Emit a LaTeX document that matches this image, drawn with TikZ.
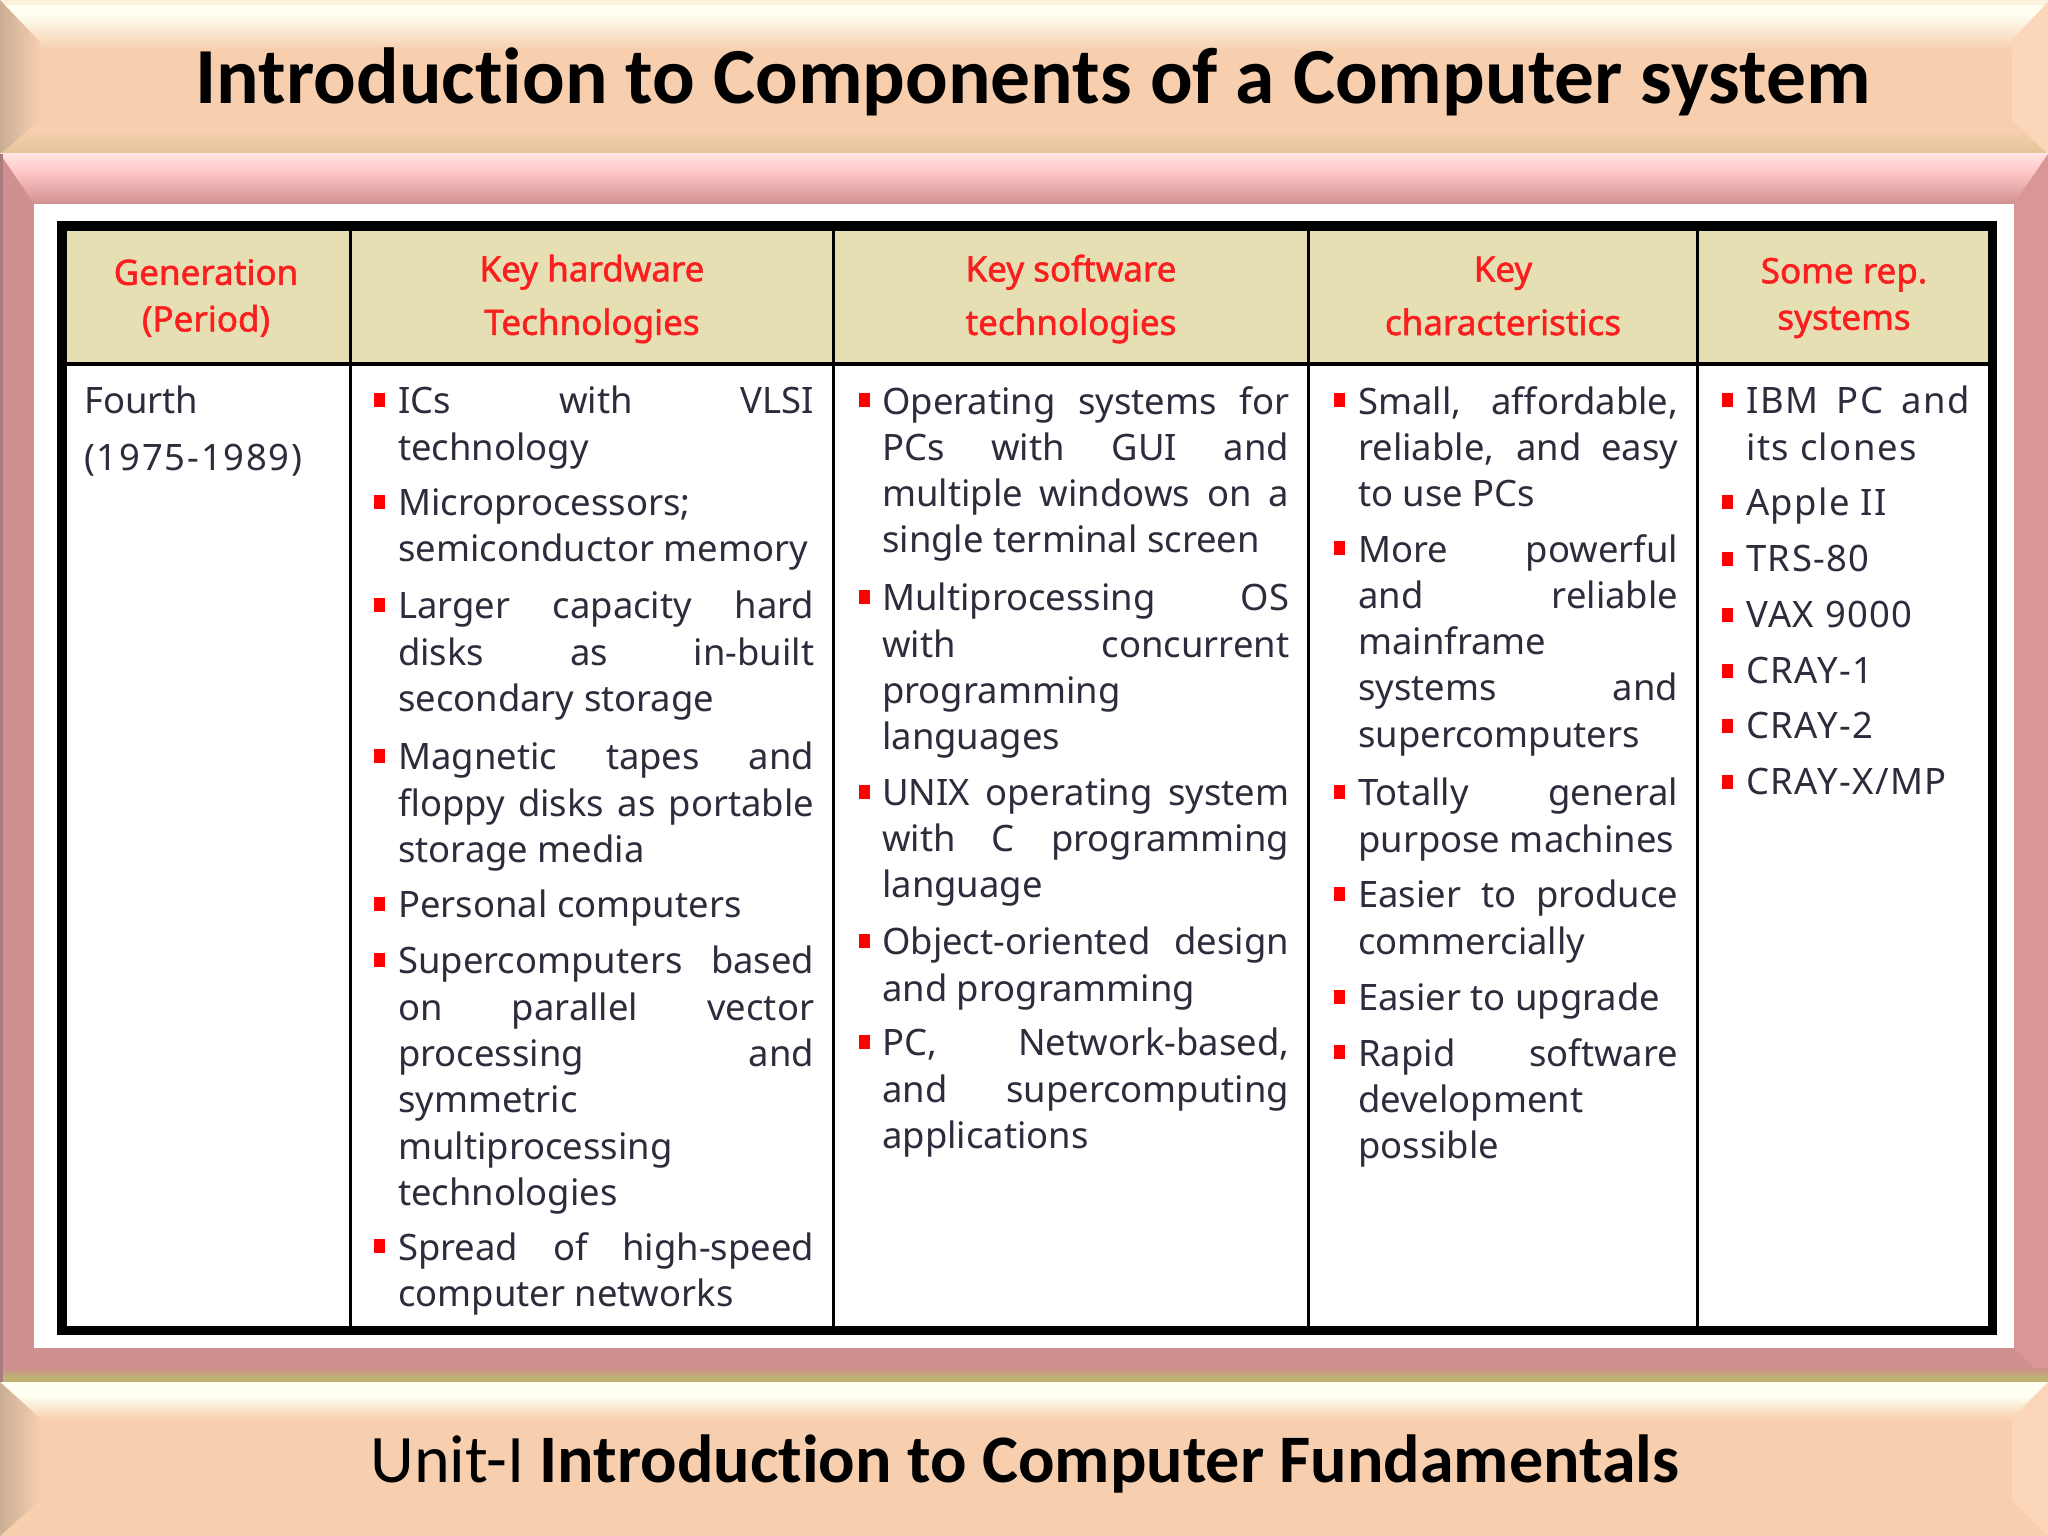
\documentclass[tikz,border=0pt]{standalone}
\usepackage{fontspec}
\setmainfont{Noto Sans}
\newfontfamily\titlefont[Ligatures=CommonOff]{Carlito}
\definecolor{peach}{HTML}{F7CFAF}
\definecolor{peachlight}{HTML}{FBD6B8}
\definecolor{tanedge}{HTML}{C9AE94}
\definecolor{cream}{HTML}{FFFFF2}
\definecolor{olive}{HTML}{BDB272}
\definecolor{rosy}{HTML}{D09090}
\definecolor{rosyright}{HTML}{DA9595}
\definecolor{rosylight}{HTML}{FFC6C6}
\definecolor{rosydark}{HTML}{A87C7C}
\definecolor{headfill}{HTML}{E6DFB3}
\definecolor{headred}{HTML}{FA1E1E}
\definecolor{bodyink}{HTML}{2C2C3C}
\begin{document}
\begin{tikzpicture}[x=1pt,y=-1pt,
  headtext/.style={headred,align=center,inner sep=0pt,font=\fontsize{35}{#1}\selectfont\addfontfeatures{FakeBold=1.5}},
  itemtext/.style={bodyink,anchor=north west,inner sep=0pt,align=justify,font=\fontsize{36.4}{46.3}\selectfont},
  sysitem/.style={itemtext,font=\fontsize{36.4}{46.3}\selectfont\addfontfeatures{LetterSpace=4}},
  redbox/.style={fill=red,inner sep=0pt,minimum width=11pt,minimum height=14pt},
  colline/.style={line width=3pt}]
\useasboundingbox (0,0) rectangle (2048,1536);
% bands
\fill[peach] (0,0) rectangle (2048,154);
\fill[cream!70!peach] (0,0) rectangle (2048,5);
\shade[top color=cream,bottom color=peach] (0,14) rectangle (2048,50);
\fill[cream] (0,5) rectangle (2048,14);
\shade[top color=peach,bottom color=olive!35!peach] (0,130) rectangle (2048,154);
\shade[left color=tanedge,right color=peach] (0,0) -- (40,42) -- (40,120) -- (0,154) -- cycle;
\fill[peachlight] (2012,40) -- (2048,2) -- (2048,154) -- (2012,120) -- cycle;
\fill[rosy] (0,154) rectangle (2048,1382);
\shade[top color=rosylight,bottom color=rosy] (0,172) rectangle (2048,204);
\shade[top color=rosylight!50!white,bottom color=rosylight] (0,154) rectangle (2048,172);
\fill[rosy] (0,154) -- (34,204) -- (34,1348) -- (0,1382) -- cycle;
\fill[rosyright] (2048,154) -- (2014,204) -- (2014,1348) -- (2048,1382) -- cycle;
\shade[top color=rosy,bottom color=olive] (0,1368) rectangle (2048,1377);
\fill[olive] (0,1377) rectangle (2048,1382);
\fill[peach] (0,1382) rectangle (2048,1536);
\fill[cream] (0,1382) rectangle (2048,1396);
\shade[top color=cream,bottom color=peach] (0,1396) rectangle (2048,1420);
\shade[left color=tanedge,right color=peach] (0,1382) -- (40,1418) -- (40,1500) -- (0,1536) -- cycle;
\fill[peachlight] (2012,1418) -- (2048,1382) -- (2048,1536) -- (2012,1500) -- cycle;
\fill[rosydark] (0,154) rectangle (3,1382);
\fill[white] (34,204) rectangle (2014,1348);
\node[font=\titlefont\bfseries\fontsize{79.5}{86}\selectfont] (title) at (1033,82) {Introduction to Components of a Computer system};
\node[font=\titlefont\fontsize{68}{74}\selectfont] (footer) at (1025,1464) {Unit-I \textbf{Introduction to Computer Fundamentals}};
% table
\fill[headfill] (62,227) rectangle (1992,364);
\draw[line width=4pt] (66,364) -- (1988,364);
\foreach \x in {350,833,1308,1697} {
   \draw[colline] (\x,226) -- (\x,1330);
}
\draw[line width=9.5pt] (62,226) rectangle (1992.5,1330.5);
\node[headtext=46.5] (headgen) at (206,298) {Generation\\(Period)};
\node[headtext=53.5] (headhw) at (592,299) {Key hardware\\Technologies};
\node[headtext=53.5] (headsw) at (1071,299) {Key software\\technologies};
\node[headtext=53.5] (headch) at (1503,296) {Key\\characteristics};
\node[headtext=46.5] (headsys) at (1844,298) {Some rep.\\systems};
\node[itemtext,text width=250pt,font=\fontsize{36.4}{57}\selectfont] (period) at (84,386) {Fourth\\{\addfontfeatures{LetterSpace=5}(1975-1989)}};
% column items
\foreach \n/\y/\txt in %
{1/401/{ICs with VLSI\linebreak technology},
2/503/{Microprocessors;\newline semiconductor memory},
3/606/{Larger capacity hard\linebreak disks as in-built\linebreak secondary storage},
4/757/{Magnetic tapes and\linebreak floppy disks as portable\linebreak storage media},
5/905/{Personal computers},
6/961/{Supercomputers based\linebreak on parallel vector\linebreak processing and\linebreak symmetric\newline multiprocessing\newline technologies},
7/1247/{Spread of high-speed\linebreak computer networks}} {
   \node[redbox] (hwbox\n) at (379,\y-1) {};
   \node[itemtext,text width=416pt] (hw\n) at (398,\y-15) {\txt};
}
\foreach \n/\y/\txt in %
{1/401/{Operating systems for\linebreak PCs with GUI and\linebreak multiple windows on a\linebreak single terminal screen},
2/598/{Multiprocessing OS\linebreak with concurrent\linebreak programming\newline languages},
3/793/{UNIX operating system\linebreak with C programming\linebreak language},
4/942/{Object-oriented design\linebreak and programming},
5/1043/{PC, Network-based,\linebreak and supercomputing\linebreak applications}} {
   \node[redbox] (swbox\n) at (864,\y-1) {};
   \node[itemtext,text width=407pt] (sw\n) at (882,\y-15) {\txt};
}
\foreach \n/\y/\txt in %
{1/401/{Small, affordable,\linebreak reliable, and easy\linebreak to use PCs},
2/549/{More powerful\linebreak and reliable\linebreak mainframe\newline systems and\linebreak supercomputers},
3/793/{Totally general\linebreak purpose machines},
4/895/{Easier to produce\linebreak commercially},
5/998/{Easier to upgrade},
6/1053/{Rapid software\linebreak development\newline possible}} {
   \node[redbox] (chbox\n) at (1339,\y-1) {};
   \node[itemtext,text width=320pt] (ch\n) at (1358,\y-15) {\txt};
}
\foreach \n/\y/\txt in %
{1/401/{IBM PC and\linebreak its clones},
2/503/{Apple II},
3/560/{TRS-80},
4/616/{VAX 9000},
5/672/{CRAY-1},
6/727/{CRAY-2},
7/783/{CRAY-X/MP}} {
   \node[redbox] (sysbox\n) at (1727,\y-1) {};
   \node[sysitem,text width=224pt] (sys\n) at (1746,\y-15) {\txt};
}
\end{tikzpicture}
\end{document}
